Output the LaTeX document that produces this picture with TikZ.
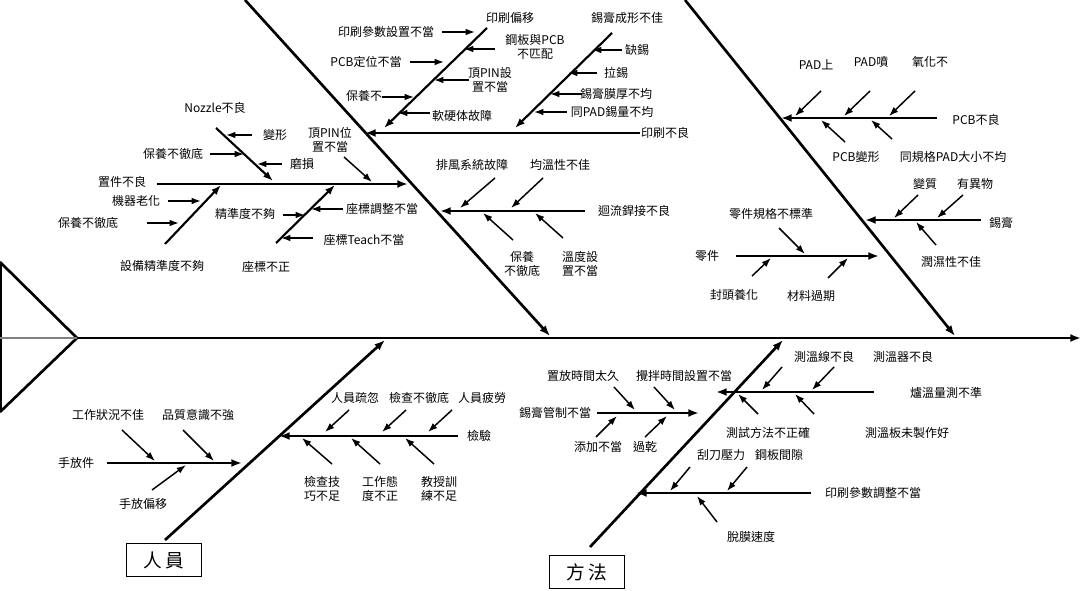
\documentclass[tikz,border=0pt]{standalone}
\usepackage{fontspec}
\setmainfont{Noto Sans CJK TC}
\usetikzlibrary{arrows.meta}

\tikzset{
  bone/.style={line width=2pt, -{Latex[length=8pt,width=6pt]}},
  branch/.style={line width=1.6pt, -{Latex[length=7.5pt,width=5.5pt]}},
  cause/.style={line width=1.1pt, -{Latex[length=7pt,width=5pt]}},
  lbl/.style={inner sep=0pt, font=\fontsize{9}{10.5}\selectfont, align=center},
  cat/.style={draw, line width=1pt, minimum width=56pt, minimum height=25pt, font=\fontsize{14}{16}\selectfont}
}
\newcommand\arr[3]{\coordinate (#1s) at (#2); \coordinate (#1e) at (#3); \draw[cause] (#1s) -- (#1e);}

\begin{document}
\begin{tikzpicture}[x=0.75pt, y=-0.75pt]
  \useasboundingbox (0,0) rectangle (1084,591);

  % head and spine
  \coordinate (h1) at (0,262);
  \coordinate (h2) at (77,338);
  \coordinate (h3) at (0,412);
  \coordinate (tail) at (1081,338);
  \draw[line width=2pt] (h1) -- (h2) -- (h3);
  \draw[line width=1pt] (1,262) -- (1,412);
  \draw[line width=2pt, gray] (h3 |- h2) -- (h2);
  \draw[bone] (h2) -- (tail);

  % main bones
  \coordinate (b1s) at (245,0);   \coordinate (b1e) at (550,336);
  \coordinate (b2s) at (685,0);   \coordinate (b2e) at (955,336);
  \coordinate (b3s) at (165,540); \coordinate (b3e) at (385,340);
  \coordinate (b4s) at (590,547); \coordinate (b4e) at (783,340);
  \draw[bone] (b1s) -- (b1e);
  \draw[bone] (b2s) -- (b2e);
  \draw[bone] (b3s) -- (b3e);
  \draw[bone] (b4s) -- (b4e);

  % 印刷不良
  \node[lbl] (yinshua) at (665,133) {印刷不良};
  \coordinate (ys) at (640,133); \coordinate (ye) at (365,133);
  \draw[bone] (ys) -- (ye);
  \node[lbl] (pianyi) at (510,18) {印刷偏移};
  \coordinate (p1s) at (487,28); \coordinate (p1e) at (384,128);
  \draw[branch] (p1s) -- (p1e);
  \node[lbl] (canshu) at (386,32) {印刷參數設置不當};   \arr{a1}{442,32}{475,32}
  \node[lbl] (dingwei) at (366,62) {PCB定位不當};       \arr{a2}{410,62}{444,62}
  \node[lbl] (baoyang) at (364,96) {保養不};             \arr{a3}{382,97}{414,97}
  \node[lbl] (gangban) at (535,47) {鋼板與PCB\\不匹配}; \arr{a4}{495,49}{464,49}
  \node[lbl] (dingpin) at (490,80) {頂PIN設\\置不當};    \arr{a5}{469,80}{434,80}
  \node[lbl] (ruanying) at (462,116) {軟硬体故障};      \arr{a6}{430,113}{398,113}
  \node[lbl] (chengxing) at (627,18) {錫膏成形不佳};
  \coordinate (p2s) at (612,33); \coordinate (p2e) at (515,128);
  \draw[branch] (p2s) -- (p2e);
  \node[lbl] (quexi) at (637,50) {缺錫};                 \arr{a7}{622,50}{592,50}
  \node[lbl] (laxi) at (616,73) {拉錫};                  \arr{a8}{597,73}{568,73}
  \node[lbl] (mohou) at (616,94) {錫膏膜厚不均};        \arr{a9}{582,94}{550,94}
  \node[lbl] (xiliang) at (612,112) {同PAD錫量不均};    \arr{a10}{567,112}{534,112}

  % 迴流銲接不良
  \node[lbl] (huiliu) at (634,211) {迴流銲接不良};
  \coordinate (hs) at (585,211); \coordinate (he) at (440,211);
  \draw[bone] (hs) -- (he);
  \node[lbl] (paifeng) at (472,165) {排風系統故障};     \arr{a11}{495,178}{460,208}
  \node[lbl] (junwen) at (560,165) {均溫性不佳};        \arr{a12}{543,178}{511,208}
  \node[lbl] (baoyang2) at (522,264) {保養\\不徹底};     \arr{a13}{513,240}{483,213}
  \node[lbl] (wendu) at (580,264) {溫度設\\置不當};      \arr{a14}{563,238}{535,213}

  % 置件不良
  \node[lbl] (zhijian) at (122,182) {置件不良};
  \coordinate (zs) at (157,184); \coordinate (ze) at (408,184);
  \draw[bone] (zs) -- (ze);
  \node[lbl] (nozzle) at (215,108) {Nozzle不良};
  \coordinate (n1s) at (216,128); \coordinate (n1e) at (273,181);
  \draw[branch] (n1s) -- (n1e);
  \node[lbl] (bianxing) at (275,135) {變形};             \arr{a15}{252,135}{226,135}
  \node[lbl] (baoyang3) at (173,154) {保養不徹底};      \arr{a16}{210,154}{244,154}
  \node[lbl] (mosun) at (302,164) {磨損};                \arr{a17}{282,164}{257,164}
  \node[lbl] (pinwei) at (330,140) {頂PIN位\\置不當};    \arr{a18}{344,157}{372,182}
  \node[lbl] (shebei) at (162,266) {設備精準度不夠};
  \coordinate (n2s) at (165,244); \coordinate (n2e) at (221,185);
  \draw[branch] (n2s) -- (n2e);
  \node[lbl] (laohua) at (136,201) {機器老化};           \arr{a19}{168,201}{201,201}
  \node[lbl] (baoyang4) at (88,223) {保養不徹底};       \arr{a20}{147,223}{179,223}
  \node[lbl] (zuobiao) at (266,267) {座標不正};
  \coordinate (n3s) at (276,243); \coordinate (n3e) at (335,185);
  \draw[branch] (n3s) -- (n3e);
  \node[lbl] (jingzhun) at (245,214) {精準度不夠};      \arr{a21}{283,215}{305,215}
  \node[lbl] (tiaozheng) at (382,209) {座標調整不當};   \arr{a22}{343,209}{311,209}
  \node[lbl] (teach) at (364,240) {座標Teach不當};      \arr{a23}{313,238}{281,238}

  % PCB不良
  \node[lbl] (pcb) at (976,120) {PCB不良};
  \coordinate (cs) at (937,118); \coordinate (ce) at (781,118);
  \draw[bone] (cs) -- (ce);
  \node[lbl] (pad1) at (816,65) {PAD上};                \arr{a24}{821,91}{795,116}
  \node[lbl] (pad2) at (871,62) {PAD噴};                 \arr{a25}{870,91}{844,116}
  \node[lbl] (yanghua) at (930,62) {氧化不};             \arr{a26}{915,91}{889,116}
  \node[lbl] (pcbbx) at (856,157) {PCB變形};            \arr{a27}{845,142}{821,120}
  \node[lbl] (tonggui) at (953,157) {同規格PAD大小不均}; \arr{a28}{892,139}{871,120}

  % 錫膏
  \node[lbl] (xigao) at (1001,223) {錫膏};
  \coordinate (gs) at (981,220); \coordinate (ge) at (865,220);
  \draw[bone] (gs) -- (ge);
  \node[lbl] (bianzhi) at (925,184) {變質};              \arr{a29}{918,195}{894,218}
  \node[lbl] (yiwu) at (975,184) {有異物};               \arr{a30}{963,195}{937,218}
  \node[lbl] (runshi) at (951,262) {潤濕性不佳};        \arr{a31}{936,245}{916,222}

  % 零件
  \node[lbl] (lingjian) at (707,256) {零件};
  \coordinate (ls) at (736,256); \coordinate (le) at (879,256);
  \draw[bone] (ls) -- (le);
  \node[lbl] (guige) at (771,214) {零件規格不標準};     \arr{a32}{779,228}{805,254}
  \node[lbl] (fengtou) at (734,295) {封頭養化};         \arr{a33}{752,276}{771,258}
  \node[lbl] (guoqi) at (811,296) {材料過期};           \arr{a34}{828,278}{848,258}

  % 人員
  \node[cat] (renyuan) at (164,560) {人\,員};
  \node[lbl] (jianyan) at (479,436) {檢驗};
  \coordinate (js) at (458,436); \coordinate (je) at (279,436);
  \draw[bone] (js) -- (je);
  \node[lbl] (shuhu) at (355,398) {人員疏忽};            \arr{a35}{349,410}{325,432}
  \node[lbl] (jiancha) at (419,398) {檢查不徹底};       \arr{a36}{406,410}{382,432}
  \node[lbl] (pilao) at (482,398) {人員疲勞};            \arr{a37}{452,410}{428,432}
  \node[lbl] (jiqiao) at (322,489) {檢查技\\巧不足};     \arr{a38}{332,464}{302,438}
  \node[lbl] (taidu) at (380,489) {工作態\\度不正};      \arr{a39}{380,464}{351,438}
  \node[lbl] (xunlian) at (439,489) {教授訓\\練不足};    \arr{a40}{434,464}{405,438}
  \node[lbl] (shoufang) at (76,463) {手放件};
  \coordinate (ss) at (107,463); \coordinate (se) at (242,463);
  \draw[bone] (ss) -- (se);
  \node[lbl] (zhuangkuang) at (108,415) {工作狀況不佳}; \arr{a41}{122,430}{155,461}
  \node[lbl] (yishi) at (198,415) {品質意識不強};       \arr{a42}{183,430}{214,461}
  \node[lbl] (pianyi2) at (143,504) {手放偏移};          \arr{a43}{152,490}{186,465}

  % 方法
  \node[cat] (fangfa) at (587,572) {方\,法};
  \node[lbl] (guanzhi) at (555,413) {錫膏管制不當};
  \coordinate (ms) at (597,413); \coordinate (me) at (699,413);
  \draw[bone] (ms) -- (me);
  \node[lbl] (zhifang) at (583,376) {置放時間太久};     \arr{a44}{614,387}{635,410}
  \node[lbl] (jiaoban) at (684,376) {攪拌時間設置不當}; \arr{a45}{654,387}{675,410}
  \node[lbl] (tianjia) at (598,447) {添加不當};          \arr{a46}{596,437}{617,416}
  \node[lbl] (guogan) at (645,447) {過乾};               \arr{a47}{645,437}{667,416}
  \node[lbl] (luwen) at (946,393) {爐溫量測不準};
  \coordinate (rs) at (874,392); \coordinate (re) at (716,392);
  \draw[bone] (rs) -- (re);
  \node[lbl] (cewenxian) at (824,357) {測溫線不良};     \arr{a48}{782,367}{762,390}
  \node[lbl] (cewenqi) at (903,357) {測溫器不良};       \arr{a49}{834,367}{812,390}
  \node[lbl] (fangfa2) at (768,433) {測試方法不正確};   \arr{a50}{758,414}{738,394}
  \node[lbl] (cewenban) at (907,433) {測溫板未製作好};  \arr{a51}{814,414}{795,394}
  \node[lbl] (tiaozheng2) at (873,493) {印刷參數調整不當};
  \coordinate (ts) at (811,493); \coordinate (te) at (636,493);
  \draw[bone] (ts) -- (te);
  \node[lbl] (guadao) at (721,455) {刮刀壓力};          \arr{a52}{690,467}{670,491}
  \node[lbl] (jianxi) at (779,455) {鋼板間隙};          \arr{a53}{747,467}{727,491}
  \node[lbl] (tuomo) at (751,537) {脫膜速度};           \arr{a54}{717,522}{697,496}
\end{tikzpicture}
\end{document}
